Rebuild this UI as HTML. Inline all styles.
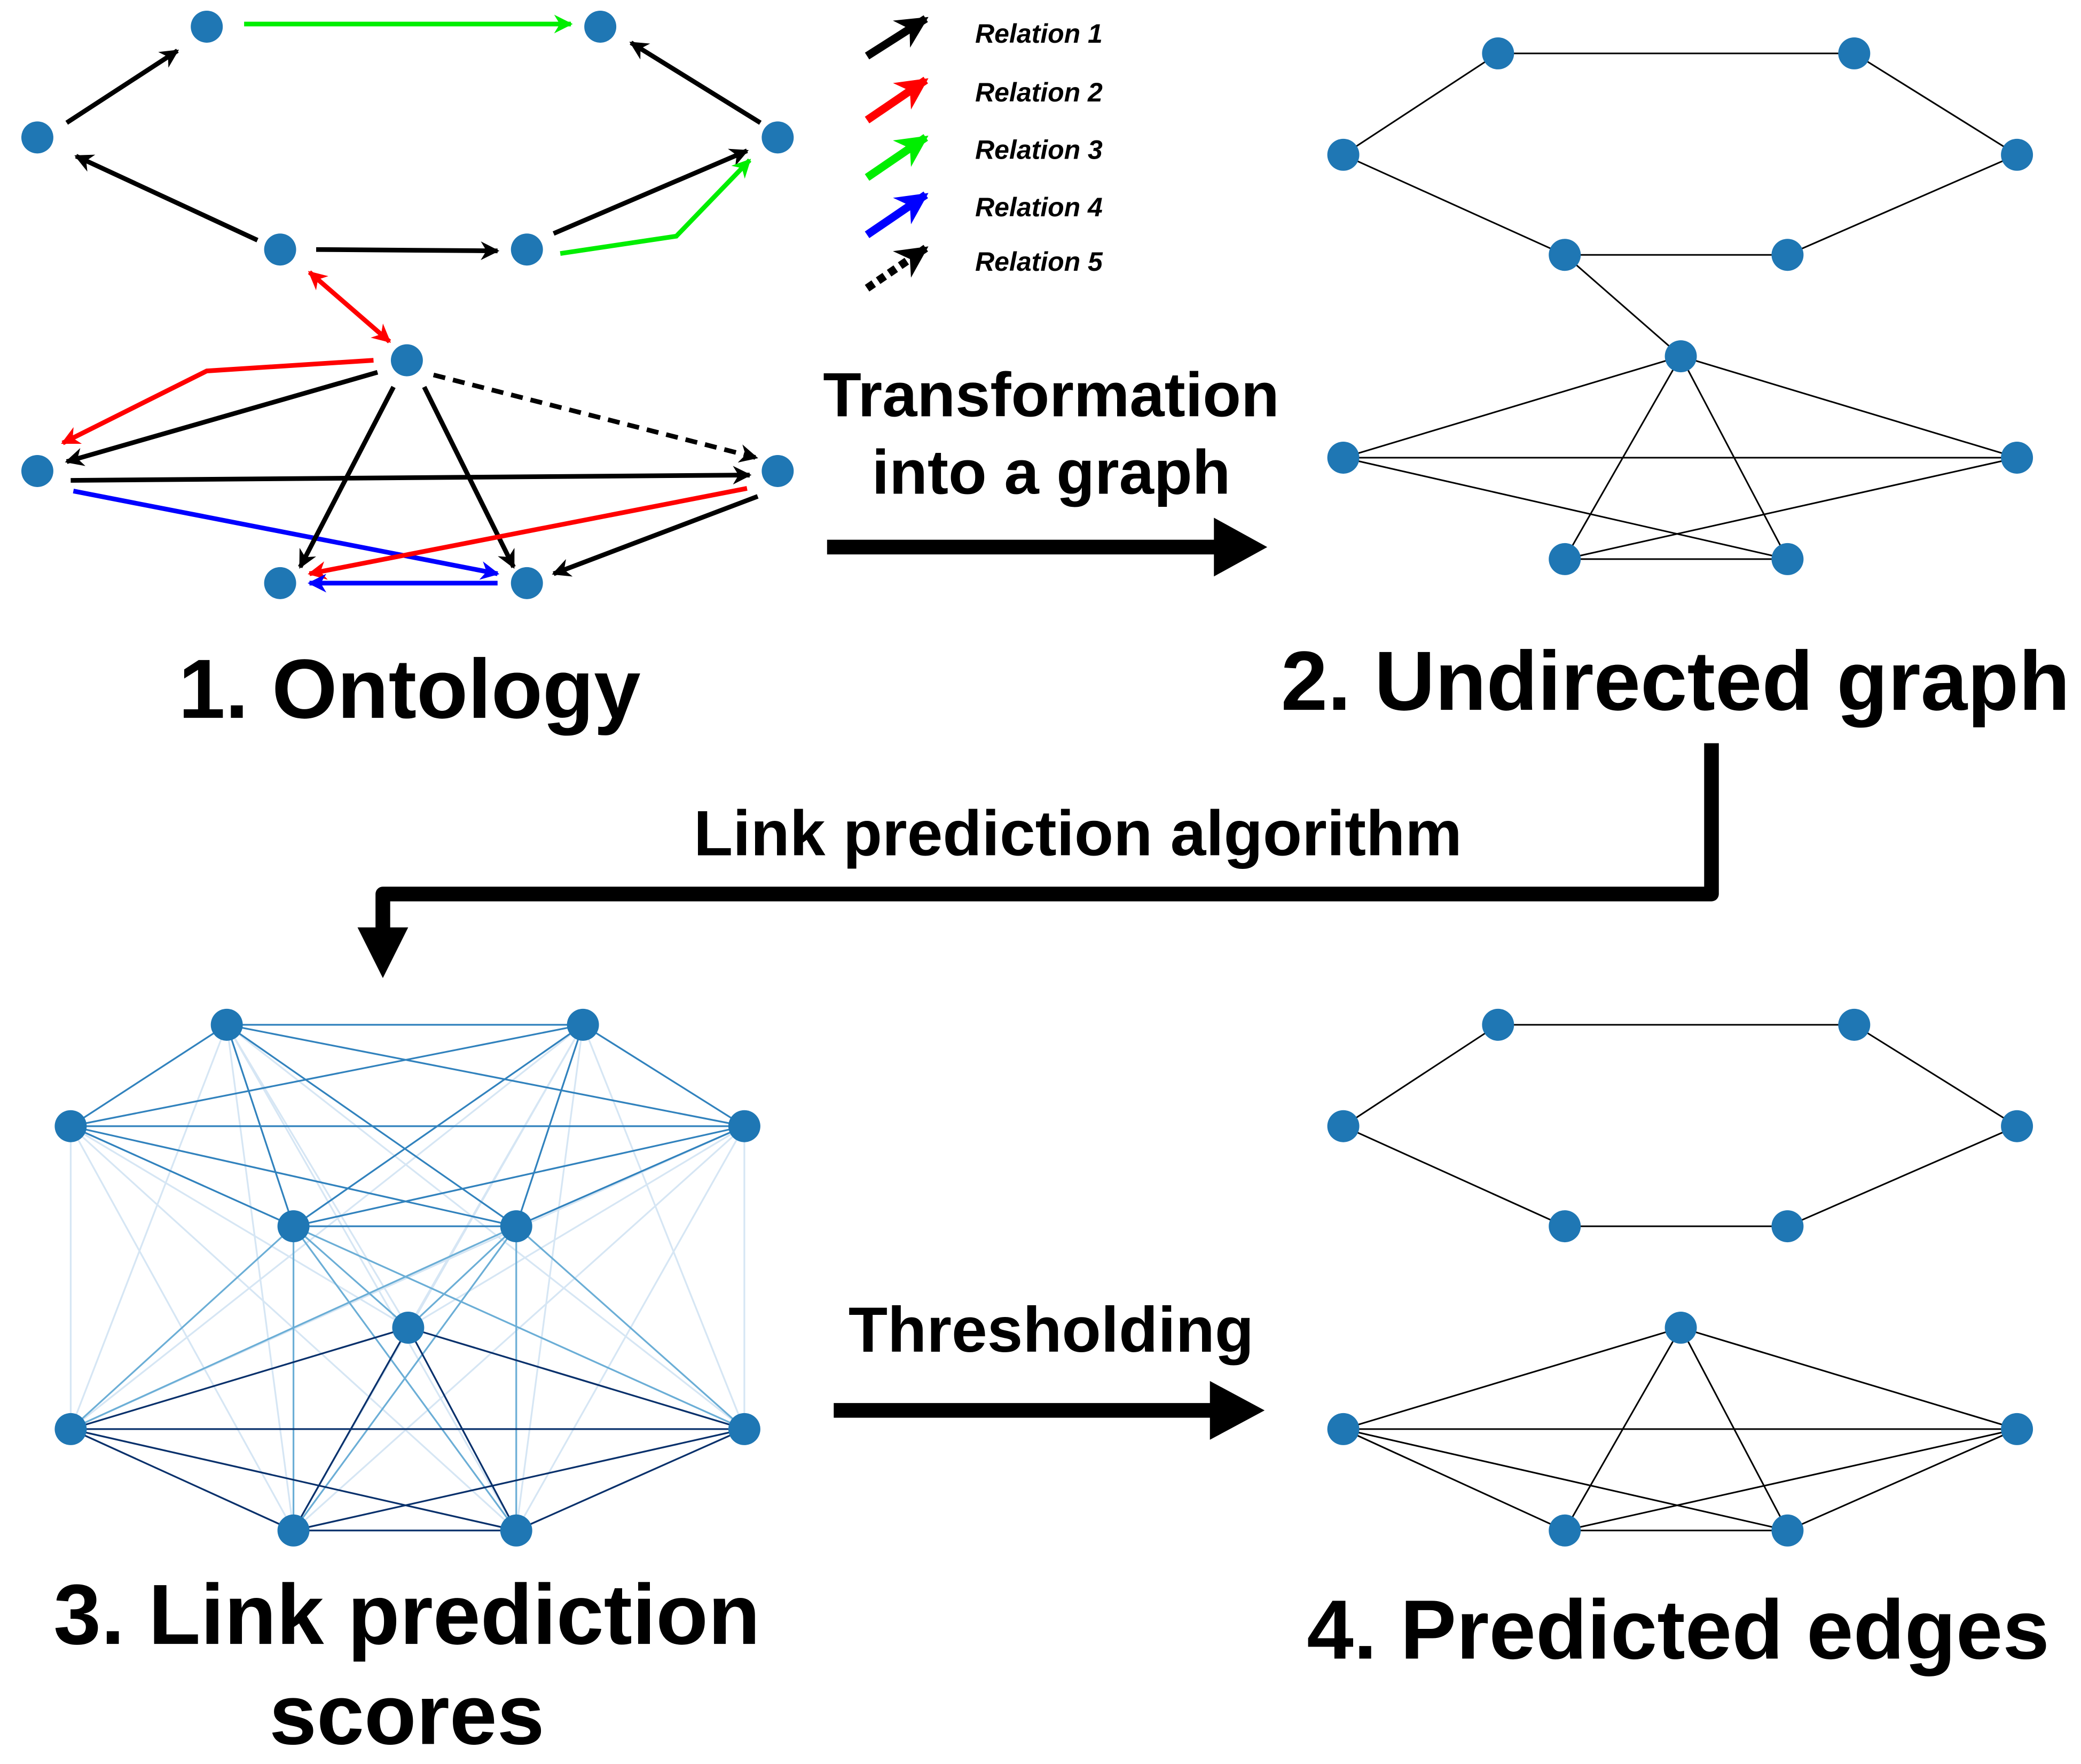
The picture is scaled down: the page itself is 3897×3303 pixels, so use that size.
<!DOCTYPE html>
<html><head><meta charset="utf-8"><style>
html,body{margin:0;padding:0;background:#fff;}
svg{display:block;}
text{font-family:"Liberation Sans",sans-serif;font-weight:bold;fill:#000;}
</style></head><body>
<svg width="3897" height="3303" viewBox="0 0 1560 1322" preserveAspectRatio="none" xmlns="http://www.w3.org/2000/svg">
<defs>
<marker id="mk" viewBox="0 0 10 10" refX="9" refY="5" markerWidth="4" markerHeight="4" orient="auto-start-reverse"><path d="M0,0 L10,5 L0,10 L3,5 z" fill="#000"/></marker>
<marker id="mr" viewBox="0 0 10 10" refX="9" refY="5" markerWidth="4" markerHeight="4" orient="auto-start-reverse"><path d="M0,0 L10,5 L0,10 L3,5 z" fill="#f00"/></marker>
<marker id="mg" viewBox="0 0 10 10" refX="9" refY="5" markerWidth="4" markerHeight="4" orient="auto-start-reverse"><path d="M0,0 L10,5 L0,10 L3,5 z" fill="#0e0"/></marker>
<marker id="mb" viewBox="0 0 10 10" refX="9" refY="5" markerWidth="4" markerHeight="4" orient="auto-start-reverse"><path d="M0,0 L10,5 L0,10 L3,5 z" fill="#00f"/></marker>
</defs>

<g fill="none" stroke-width="3.5">
<line x1="50" y1="92" x2="133" y2="38" stroke="#000" marker-end="url(#mk)"/>
<line x1="183" y1="18" x2="428" y2="18" stroke="#0e0" marker-end="url(#mg)"/>
<line x1="570" y1="92" x2="473" y2="32" stroke="#000" marker-end="url(#mk)"/>
<line x1="193" y1="180" x2="57" y2="117" stroke="#000" marker-end="url(#mk)"/>
<line x1="237" y1="187" x2="373" y2="188" stroke="#000" marker-end="url(#mk)"/>
<line x1="415" y1="175" x2="560" y2="113" stroke="#000" marker-end="url(#mk)"/>
<polyline points="420,190 507,177 562,120" stroke="#0e0" marker-end="url(#mg)"/>
<line x1="232" y1="204" x2="292" y2="256" stroke="#f00" marker-start="url(#mr)" marker-end="url(#mr)"/>
<polyline points="280,270 155,278 47,332" stroke="#f00" marker-end="url(#mr)"/>
<line x1="283" y1="279" x2="50" y2="346" stroke="#000" marker-end="url(#mk)"/>
<line x1="325" y1="281" x2="567" y2="343" stroke="#000" stroke-dasharray="9,6" marker-end="url(#mk)"/>
<line x1="53" y1="360" x2="562" y2="356" stroke="#000" marker-end="url(#mk)"/>
<line x1="55" y1="368" x2="373" y2="430" stroke="#00f" marker-end="url(#mb)"/>
<line x1="295" y1="290" x2="225" y2="425" stroke="#000" marker-end="url(#mk)"/>
<line x1="318" y1="290" x2="385" y2="425" stroke="#000" marker-end="url(#mk)"/>
<line x1="560" y1="366" x2="232" y2="430" stroke="#f00" marker-end="url(#mr)"/>
<line x1="568" y1="372" x2="415" y2="430" stroke="#000" marker-end="url(#mk)"/>
<line x1="373" y1="437" x2="232" y2="437" stroke="#00f" marker-end="url(#mb)"/>
</g>
<g fill="#1f77b4">
<circle cx="155" cy="20" r="12"/><circle cx="450" cy="20" r="12"/><circle cx="28" cy="103" r="12"/><circle cx="583" cy="103" r="12"/>
<circle cx="210" cy="187" r="12"/><circle cx="395" cy="187" r="12"/><circle cx="305" cy="270" r="12"/><circle cx="28" cy="353" r="12"/>
<circle cx="583" cy="353" r="12"/><circle cx="210" cy="437" r="12"/><circle cx="395" cy="437" r="12"/>
</g>

<g stroke-width="6" fill="none">
<line x1="650" y1="42" x2="694" y2="14" stroke="#000" marker-end="url(#mk)"/>
<line x1="650" y1="90" x2="694" y2="60" stroke="#f00" marker-end="url(#mr)"/>
<line x1="650" y1="133" x2="694" y2="103" stroke="#0e0" marker-end="url(#mg)"/>
<line x1="650" y1="176" x2="694" y2="146" stroke="#00f" marker-end="url(#mb)"/>
<line x1="650" y1="216" x2="694" y2="186" stroke="#000" stroke-dasharray="6,4" marker-end="url(#mk)"/>
</g>
<g font-size="20" font-style="italic">
<text x="731" y="32">Relation 1</text><text x="731" y="76">Relation 2</text><text x="731" y="119">Relation 3</text>
<text x="731" y="162">Relation 4</text><text x="731" y="203">Relation 5</text>
</g>

<g stroke="#000" stroke-width="1.2">
<line x1="1123" y1="40" x2="1390" y2="40"/><line x1="1007" y1="116" x2="1123" y2="40"/><line x1="1390" y1="40" x2="1512" y2="116"/>
<line x1="1007" y1="116" x2="1173" y2="191"/><line x1="1512" y1="116" x2="1340" y2="191"/><line x1="1173" y1="191" x2="1340" y2="191"/>
<line x1="1173" y1="191" x2="1260" y2="267"/>
<line x1="1260" y1="267" x2="1007" y2="343"/><line x1="1260" y1="267" x2="1512" y2="343"/><line x1="1260" y1="267" x2="1173" y2="419"/><line x1="1260" y1="267" x2="1340" y2="419"/>
<line x1="1007" y1="343" x2="1512" y2="343"/><line x1="1007" y1="343" x2="1340" y2="419"/><line x1="1512" y1="343" x2="1173" y2="419"/><line x1="1173" y1="419" x2="1340" y2="419"/>
</g>
<g fill="#1f77b4">
<circle cx="1123" cy="40" r="12"/><circle cx="1390" cy="40" r="12"/><circle cx="1007" cy="116" r="12"/><circle cx="1512" cy="116" r="12"/>
<circle cx="1173" cy="191" r="12"/><circle cx="1340" cy="191" r="12"/><circle cx="1260" cy="267" r="12"/><circle cx="1007" cy="343" r="12"/>
<circle cx="1512" cy="343" r="12"/><circle cx="1173" cy="419" r="12"/><circle cx="1340" cy="419" r="12"/>
</g>

<g stroke="#000" stroke-width="1.2">
<line x1="1123" y1="768" x2="1390" y2="768"/><line x1="1007" y1="844" x2="1123" y2="768"/><line x1="1390" y1="768" x2="1512" y2="844"/>
<line x1="1007" y1="844" x2="1173" y2="919"/><line x1="1512" y1="844" x2="1340" y2="919"/><line x1="1173" y1="919" x2="1340" y2="919"/>
<line x1="1260" y1="995" x2="1007" y2="1071"/><line x1="1260" y1="995" x2="1512" y2="1071"/><line x1="1260" y1="995" x2="1173" y2="1147"/><line x1="1260" y1="995" x2="1340" y2="1147"/>
<line x1="1007" y1="1071" x2="1512" y2="1071"/><line x1="1007" y1="1071" x2="1340" y2="1147"/><line x1="1512" y1="1071" x2="1173" y2="1147"/><line x1="1173" y1="1147" x2="1340" y2="1147"/>
<line x1="1007" y1="1071" x2="1173" y2="1147"/><line x1="1512" y1="1071" x2="1340" y2="1147"/>
</g>
<g fill="#1f77b4">
<circle cx="1123" cy="768" r="12"/><circle cx="1390" cy="768" r="12"/><circle cx="1007" cy="844" r="12"/><circle cx="1512" cy="844" r="12"/>
<circle cx="1173" cy="919" r="12"/><circle cx="1340" cy="919" r="12"/><circle cx="1260" cy="995" r="12"/><circle cx="1007" cy="1071" r="12"/>
<circle cx="1512" cy="1071" r="12"/><circle cx="1173" cy="1147" r="12"/><circle cx="1340" cy="1147" r="12"/>
</g>

<g stroke-width="1.3">
<g stroke="#d6e6f4">
<line x1="170" y1="768" x2="53" y2="1071"/><line x1="170" y1="768" x2="558" y2="1071"/><line x1="170" y1="768" x2="220" y2="1147"/><line x1="170" y1="768" x2="387" y2="1147"/>
<line x1="437" y1="768" x2="53" y2="1071"/><line x1="437" y1="768" x2="558" y2="1071"/><line x1="437" y1="768" x2="220" y2="1147"/><line x1="437" y1="768" x2="387" y2="1147"/>
<line x1="53" y1="844" x2="53" y2="1071"/><line x1="53" y1="844" x2="558" y2="1071"/><line x1="53" y1="844" x2="220" y2="1147"/><line x1="53" y1="844" x2="387" y2="1147"/>
<line x1="558" y1="844" x2="558" y2="1071"/><line x1="558" y1="844" x2="53" y2="1071"/><line x1="558" y1="844" x2="220" y2="1147"/><line x1="558" y1="844" x2="387" y2="1147"/>
<line x1="53" y1="844" x2="306" y2="995"/><line x1="558" y1="844" x2="306" y2="995"/>
<line x1="170" y1="768" x2="306" y2="995"/><line x1="437" y1="768" x2="306" y2="995"/>
</g>
<g stroke="#6baed6">
<line x1="220" y1="919" x2="53" y2="1071"/><line x1="220" y1="919" x2="558" y2="1071"/><line x1="220" y1="919" x2="220" y2="1147"/><line x1="220" y1="919" x2="387" y2="1147"/>
<line x1="387" y1="919" x2="53" y2="1071"/><line x1="387" y1="919" x2="558" y2="1071"/><line x1="387" y1="919" x2="220" y2="1147"/><line x1="387" y1="919" x2="387" y2="1147"/>
<line x1="220" y1="919" x2="306" y2="995"/><line x1="387" y1="919" x2="306" y2="995"/>
</g>
<g stroke="#3182bd">
<line x1="170" y1="768" x2="437" y2="768"/><line x1="170" y1="768" x2="53" y2="844"/><line x1="170" y1="768" x2="558" y2="844"/><line x1="170" y1="768" x2="220" y2="919"/><line x1="170" y1="768" x2="387" y2="919"/>
<line x1="437" y1="768" x2="53" y2="844"/><line x1="437" y1="768" x2="558" y2="844"/><line x1="437" y1="768" x2="220" y2="919"/><line x1="437" y1="768" x2="387" y2="919"/>
<line x1="53" y1="844" x2="558" y2="844"/><line x1="53" y1="844" x2="220" y2="919"/><line x1="53" y1="844" x2="387" y2="919"/>
<line x1="558" y1="844" x2="220" y2="919"/><line x1="558" y1="844" x2="387" y2="919"/><line x1="220" y1="919" x2="387" y2="919"/>
</g>
<g stroke="#08306b">
<line x1="306" y1="995" x2="53" y2="1071"/><line x1="306" y1="995" x2="558" y2="1071"/><line x1="306" y1="995" x2="220" y2="1147"/><line x1="306" y1="995" x2="387" y2="1147"/>
<line x1="53" y1="1071" x2="558" y2="1071"/><line x1="53" y1="1071" x2="220" y2="1147"/><line x1="53" y1="1071" x2="387" y2="1147"/>
<line x1="558" y1="1071" x2="220" y2="1147"/><line x1="558" y1="1071" x2="387" y2="1147"/><line x1="220" y1="1147" x2="387" y2="1147"/>
</g>
</g>
<g fill="#1f77b4">
<circle cx="170" cy="768" r="12"/><circle cx="437" cy="768" r="12"/><circle cx="53" cy="844" r="12"/><circle cx="558" cy="844" r="12"/>
<circle cx="220" cy="919" r="12"/><circle cx="387" cy="919" r="12"/><circle cx="306" cy="995" r="12"/><circle cx="53" cy="1071" r="12"/>
<circle cx="558" cy="1071" r="12"/><circle cx="220" cy="1147" r="12"/><circle cx="387" cy="1147" r="12"/>
</g>

<g stroke="#000" stroke-width="11" fill="none">
<line x1="620" y1="410" x2="915" y2="410"/>
<line x1="625" y1="1057" x2="912" y2="1057"/>
<polyline points="1283,557 1283,670 287,670 287,700" stroke-linejoin="round"/>
</g>
<path d="M910,388 L950,410 L910,432 z" fill="#000"/>
<path d="M907,1035 L948,1057 L907,1079 z" fill="#000"/>
<path d="M268,695 L287,733 L306,695 z" fill="#000"/>

<g text-anchor="middle">
<text x="788" y="312" font-size="47">Transformation</text>
<text x="788" y="370" font-size="47">into a graph</text>
<text x="808" y="641" font-size="48">Link prediction algorithm</text>
<text x="788" y="1013" font-size="48">Thresholding</text>
<text x="307" y="538" font-size="63">1. Ontology</text>
<text x="1256" y="532" font-size="63">2. Undirected graph</text>
<text x="305" y="1232" font-size="64">3. Link prediction</text>
<text x="305" y="1307" font-size="64">scores</text>
<text x="1258" y="1243" font-size="63">4. Predicted edges</text>
</g>
</svg>
</body></html>
